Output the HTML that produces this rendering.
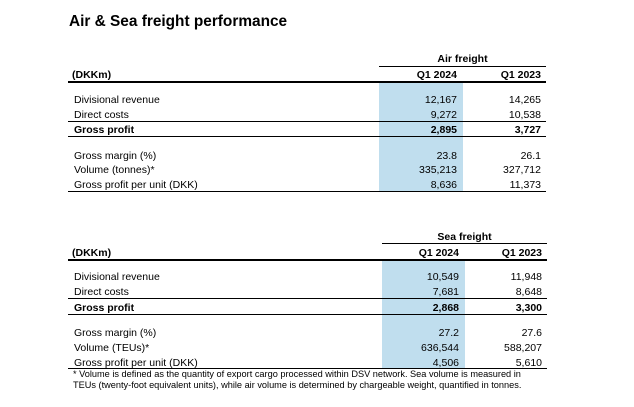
<!DOCTYPE html>
<html><head><style>
body{margin:0;width:634px;height:407px;background:#fff;position:relative;font-family:"Liberation Sans",Arial,sans-serif;color:#000;overflow:hidden}
div{position:absolute;white-space:nowrap}
.t{font-size:10.5px;line-height:12px}
.l{left:74px}
.r{text-align:right;width:80px}
.b{font-weight:bold}
.ln{background:#000;height:1px}
.bl{background:#c0deee}
</style></head><body>
<div class="b" style="left:69px;top:13px;font-size:15.4px;line-height:18px">Air &amp; Sea freight performance</div>

<!-- Air -->
<div class="bl" style="left:379px;top:82px;width:84px;height:109px"></div>
<div class="t b" style="left:379px;width:167px;text-align:center;top:53px">Air freight</div>
<div class="ln" style="left:379px;width:167px;top:66px"></div>
<div class="t b" style="left:72px;top:69px">(DKKm)</div>
<div class="t b r" style="left:377px;top:69px">Q1 2024</div>
<div class="t b r" style="left:461px;top:69px">Q1 2023</div>
<div class="ln" style="left:68px;width:478px;top:81px;height:1.5px"></div>
<div class="t l" style="top:94px">Divisional revenue</div><div class="t r" style="left:377px;top:94px">12,167</div><div class="t r" style="left:461px;top:94px">14,265</div>
<div class="t l" style="top:109px">Direct costs</div><div class="t r" style="left:377px;top:109px">9,272</div><div class="t r" style="left:461px;top:109px">10,538</div>
<div class="ln" style="left:68px;width:478px;top:121px"></div>
<div class="t l b" style="top:124px">Gross profit</div><div class="t r b" style="left:377px;top:124px">2,895</div><div class="t r b" style="left:461px;top:124px">3,727</div>
<div class="ln" style="left:68px;width:478px;top:136px"></div>
<div class="t l" style="top:150px">Gross margin (%)</div><div class="t r" style="left:377px;top:150px">23.8</div><div class="t r" style="left:461px;top:150px">26.1</div>
<div class="t l" style="top:164px">Volume (tonnes)*</div><div class="t r" style="left:377px;top:164px">335,213</div><div class="t r" style="left:461px;top:164px">327,712</div>
<div class="t l" style="top:179px">Gross profit per unit (DKK)</div><div class="t r" style="left:377px;top:179px">8,636</div><div class="t r" style="left:461px;top:179px">11,373</div>
<div class="ln" style="left:68px;width:478px;top:191px"></div>

<!-- Sea -->
<div class="bl" style="left:382px;top:260px;width:83px;height:108px"></div>
<div class="t b" style="left:382px;width:165px;text-align:center;top:231px">Sea freight</div>
<div class="ln" style="left:382px;width:165px;top:243px"></div>
<div class="t b" style="left:72px;top:247px">(DKKm)</div>
<div class="t b r" style="left:379px;top:247px">Q1 2024</div>
<div class="t b r" style="left:462px;top:247px">Q1 2023</div>
<div class="ln" style="left:68px;width:479px;top:259px;height:1.5px"></div>
<div class="t l" style="top:271px">Divisional revenue</div><div class="t r" style="left:379px;top:271px">10,549</div><div class="t r" style="left:462px;top:271px">11,948</div>
<div class="t l" style="top:286px">Direct costs</div><div class="t r" style="left:379px;top:286px">7,681</div><div class="t r" style="left:462px;top:286px">8,648</div>
<div class="ln" style="left:68px;width:479px;top:298px"></div>
<div class="t l b" style="top:302px">Gross profit</div><div class="t r b" style="left:379px;top:302px">2,868</div><div class="t r b" style="left:462px;top:302px">3,300</div>
<div class="ln" style="left:68px;width:479px;top:314px"></div>
<div class="t l" style="top:327px">Gross margin (%)</div><div class="t r" style="left:379px;top:327px">27.2</div><div class="t r" style="left:462px;top:327px">27.6</div>
<div class="t l" style="top:342px">Volume (TEUs)*</div><div class="t r" style="left:379px;top:342px">636,544</div><div class="t r" style="left:462px;top:342px">588,207</div>
<div class="t l" style="top:357px">Gross profit per unit (DKK)</div><div class="t r" style="left:379px;top:357px">4,506</div><div class="t r" style="left:462px;top:357px">5,610</div>
<div class="ln" style="left:68px;width:479px;top:368px"></div>
<div style="left:73px;top:369px;font-size:9.2px;line-height:10.5px">* Volume is defined as the quantity of export cargo processed within DSV network. Sea volume is measured in<br>TEUs (twenty-foot equivalent units), while air volume is determined by chargeable weight, quantified in tonnes.</div>
</body></html>
